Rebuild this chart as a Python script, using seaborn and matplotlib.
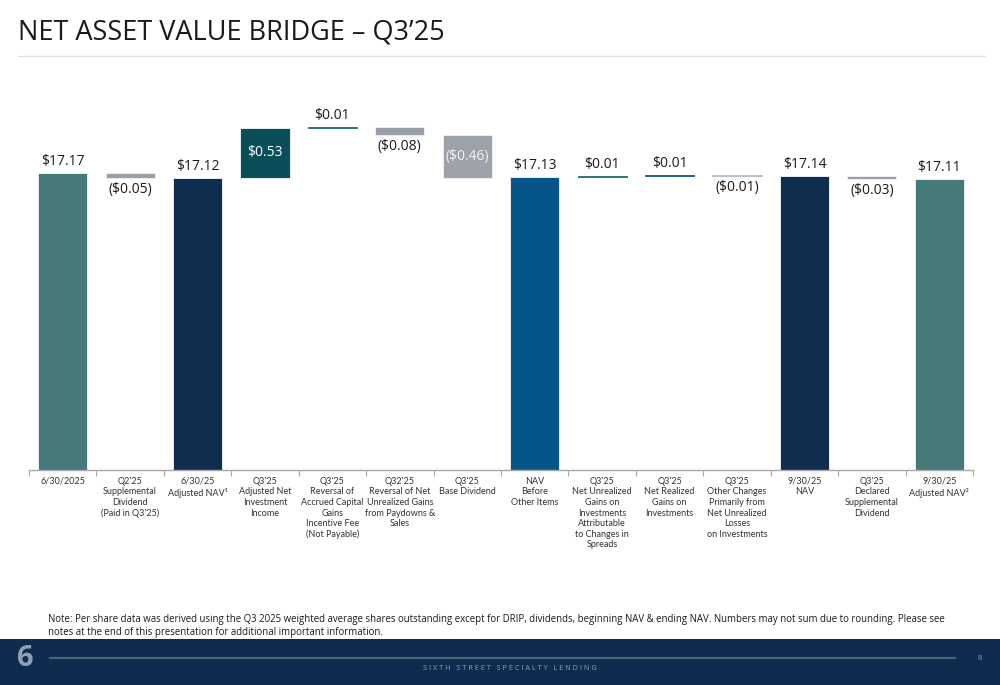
import numpy as np
import pandas as pd
import matplotlib
matplotlib.use("Agg")
import matplotlib.pyplot as plt
import seaborn as sns

# ---- data -----------------------------------------------------------------
steps = [
    "6/30/2025",
    "Q2'25\nSupplemental\nDividend\n(Paid in Q3'25)",
    "6/30/25\nAdjusted NAV\u00b9",
    "Q3'25\nAdjusted Net\nInvestment\nIncome",
    "Q3'25\nReversal of\nAccrued Capital\nGains\nIncentive Fee\n(Not Payable)",
    "Q32'25\nReversal of Net\nUnrealized Gains\nfrom Paydowns &\nSales",
    "Q3'25\nBase Dividend",
    "NAV\nBefore\nOther Items",
    "Q3'25\nNet Unrealized\nGains on\nInvestments\nAttributable\nto Changes in\nSpreads",
    "Q3'25\nNet Realized\nGains on\nInvestments",
    "Q3'25\nOther Changes\nPrimarily from\nNet Unrealized\nLosses\non Investments",
    "9/30/25\nNAV",
    "Q3'25\nDeclared\nSupplemental\nDividend",
    "9/30/25\nAdjusted NAV\u00b2",
]
values = [17.17, -0.05, 17.12, 0.53, 0.01, -0.08, -0.46,
          17.13, 0.01, 0.01, -0.01, 17.14, -0.03, 17.11]
is_total = [True, False, True, False, False, False, False,
            True, False, False, False, True, False, True]
value_labels = ["$17.17", "($0.05)", "$17.12", "$0.53", "$0.01", "($0.08)",
                "($0.46)", "$17.13", "$0.01", "$0.01", "($0.01)", "$17.14",
                "($0.03)", "$17.11"]

# ---- style ----------------------------------------------------------------
bar_colors = ["#45797a", "#9aa0a8", "#0f2d4f", "#0a4e5a", "#2e7480", "#9aa0a8",
              "#9da2a9", "#05558a", "#2e7480", "#24687a", "#b4c2cc", "#0f2d4f",
              "#9aa0a8", "#45797a"]
NAVY = "#0e2c4f"

sns.set_theme(style="white")
plt.rcParams["font.family"] = ["Open Sans", "DejaVu Sans"]

# waterfall geometry: totals reset the running level, deltas float on it
bottoms, heights = [], []
level = 0.0
for v, tot in zip(values, is_total):
    if tot:
        bottoms.append(0.0)
        heights.append(v)
        level = v
    else:
        bottoms.append(level if v > 0 else level + v)
        heights.append(abs(v))
        level += v

# penny moves show as thin lines: give them an edge in their own colour
edge_colors = [c if h < 0.02 else "#e8eef1" for c, h in zip(bar_colors, heights)]

df = pd.DataFrame({"step": steps, "height": heights})

fig = plt.figure(figsize=(10, 6.85), dpi=100)
ax = fig.add_axes([0.029, 1 - 470 / 685, 0.944, 370 / 685])

# color= skips seaborn's colour scouting; facecolor list sets each bar
sns.barplot(data=df, x="step", y="height", order=steps, ax=ax, width=0.73,
            errorbar=None, color="#000000", facecolor=bar_colors,
            edgecolor=edge_colors, linewidth=0.7, bottom=bottoms)

ax.set_xlim(-0.5, len(steps) - 0.5)
ax.set_ylim(14.0, 17.95)
ax.set_xlabel("")
ax.set_ylabel("")
ax.set_yticks([])
for s in ["top", "left", "right"]:
    ax.spines[s].set_visible(False)
ax.spines["bottom"].set_color("#a8a8a8")
ax.spines["bottom"].set_linewidth(1)
ax.set_xticks(np.arange(-0.5, len(steps)), minor=True)
ax.tick_params(axis="x", which="major", length=0, pad=5, labelsize=6.5,
               labelcolor="#333333")
ax.tick_params(axis="x", which="minor", length=4, width=0.8, color="#a8a8a8",
               bottom=True, direction="out")
for t in ax.get_xticklabels():
    t.set_fontfamily(["Lato", "DejaVu Sans"])
    t.set_linespacing(1.22)

# value labels
for i, (v, tot, lab) in enumerate(zip(values, is_total, value_labels)):
    top = bottoms[i] + heights[i]
    if not tot and abs(v) >= 0.3:
        ax.text(i, bottoms[i] + heights[i] / 2, lab, ha="center", va="center",
                fontsize=10, color="white" if v > 0 else "#f2f3f5")
    elif tot or v > 0:
        ax.annotate(lab, (i, top), xytext=(0, 3), textcoords="offset points",
                    ha="center", va="bottom", fontsize=10, color="#1a1a1a")
    else:
        ax.annotate(lab, (i, bottoms[i]), xytext=(0, -3),
                    textcoords="offset points", ha="center", va="top",
                    fontsize=10, color="#1a1a1a")

# ---- slide furniture -------------------------------------------------------
fig.text(0.018, 1 - 32 / 685, "NET ASSET VALUE BRIDGE \u2013 Q3\u201925",
         fontsize=19.5, color="#1a1a1a", va="center", ha="left")
fig.add_artist(plt.Line2D([0.018, 0.985], [1 - 56 / 685] * 2,
                          color="#dde1e6", lw=1))

fig.text(0.048, 1 - 626 / 685,
         "Note: Per share data was derived using the Q3 2025 weighted average "
         "shares outstanding except for DRIP, dividends, beginning NAV & ending "
         "NAV. Numbers may not sum due to rounding. Please see\nnotes at the end "
         "of this presentation for additional important information.",
         fontsize=6.9, color="#1a1a1a", va="center", ha="left", linespacing=1.25)

fig.add_artist(plt.Rectangle((0, 0), 1, 46 / 685, transform=fig.transFigure,
                             facecolor=NAVY, edgecolor="none"))
fig.text(0.017, 1 - 659 / 685, "6", fontsize=21, fontweight="bold",
         color="#8ea0b4", va="center", ha="left")
fig.add_artist(plt.Line2D([0.05, 0.955], [1 - 658 / 685] * 2,
                          color="#4d617a", lw=1.6))
fig.text(0.51, 1 - 668 / 685, " ".join("SIXTH STREET SPECIALTY LENDING"),
         fontsize=5.3, color="#8ea0b4", va="center", ha="center")
fig.text(0.98, 1 - 658 / 685, "8", fontsize=5.5, color="#8ea0b4",
         va="center", ha="center")

fig.savefig("out.png", dpi=100)
